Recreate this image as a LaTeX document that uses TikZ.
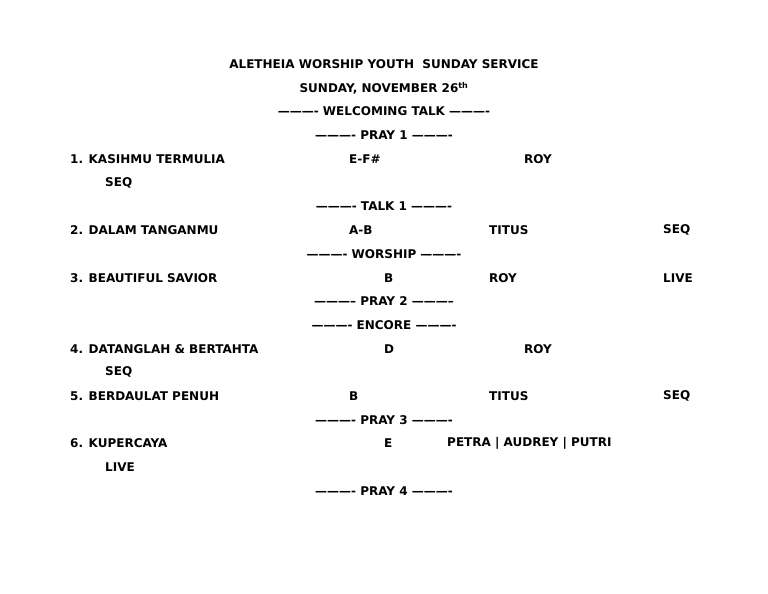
\documentclass[tikz,border=0pt]{standalone}
\usepackage{fontspec}
\setmainfont{DejaVu Sans}
\begin{document}
\begin{tikzpicture}[x=1pt,y=-1pt,every node/.style={inner sep=0pt,font=\bfseries\fontsize{12}{14}\selectfont},
  lt/.style={anchor=west},ct/.style={anchor=center}]
\useasboundingbox (0,0) rectangle (768,594);
\node[ct] (t1) at (384,64) {ALETHEIA WORSHIP YOUTH\ \ SUNDAY SERVICE};
\node[ct] (t2) at (384,88) {SUNDAY, NOVEMBER 26\textsuperscript{th}};
\node[ct] (s1) at (384,111) {---------- WELCOMING TALK ----------};
\node[ct] (s2) at (384,135) {---------- PRAY 1 ----------};
\node[lt] (a1) at (70,159) {1. KASIHMU TERMULIA};
\node[lt] (a2) at (349,159) {E-F\#};
\node[lt] (a3) at (524,159) {ROY};
\node[lt] (a4) at (105,183) {SEQ};
\node[ct] (s3) at (384,206) {---------- TALK 1 ----------};
\node[lt] (b1) at (70,230) {2. DALAM TANGANMU};
\node[lt] (b2) at (349,230) {A-B};
\node[lt] (b3) at (489,230) {TITUS};
\node[lt] (b4) at (663,230) {SEQ};
\node[ct] (s4) at (384,254) {---------- WORSHIP ----------};
\node[lt] (c1) at (70,278) {3. BEAUTIFUL SAVIOR};
\node[lt] (c2) at (384,278) {B};
\node[lt] (c3) at (489,278) {ROY};
\node[lt] (c4) at (663,278) {LIVE};
\node[ct] (s5) at (384,301) {----------- PRAY 2 -----------};
\node[ct] (s6) at (384,325) {---------- ENCORE ----------};
\node[lt] (d1) at (70,349) {4. DATANGLAH \& BERTAHTA};
\node[lt] (d2) at (384,349) {D};
\node[lt] (d3) at (524,349) {ROY};
\node[lt] (d4) at (105,372) {SEQ};
\node[lt] (e1) at (70,396) {5. BERDAULAT PENUH};
\node[lt] (e2) at (349,396) {B};
\node[lt] (e3) at (489,396) {TITUS};
\node[lt] (e4) at (663,396) {SEQ};
\node[ct] (s7) at (384,420) {---------- PRAY 3 ----------};
\node[lt] (f1) at (70,443) {6. KUPERCAYA};
\node[lt] (f2) at (384,443) {E};
\node[lt] (f3) at (447,443) {PETRA | AUDREY | PUTRI};
\node[lt] (f4) at (105,467) {LIVE};
\node[ct] (s8) at (384,491) {---------- PRAY 4 ----------};
\end{tikzpicture}
\end{document}
